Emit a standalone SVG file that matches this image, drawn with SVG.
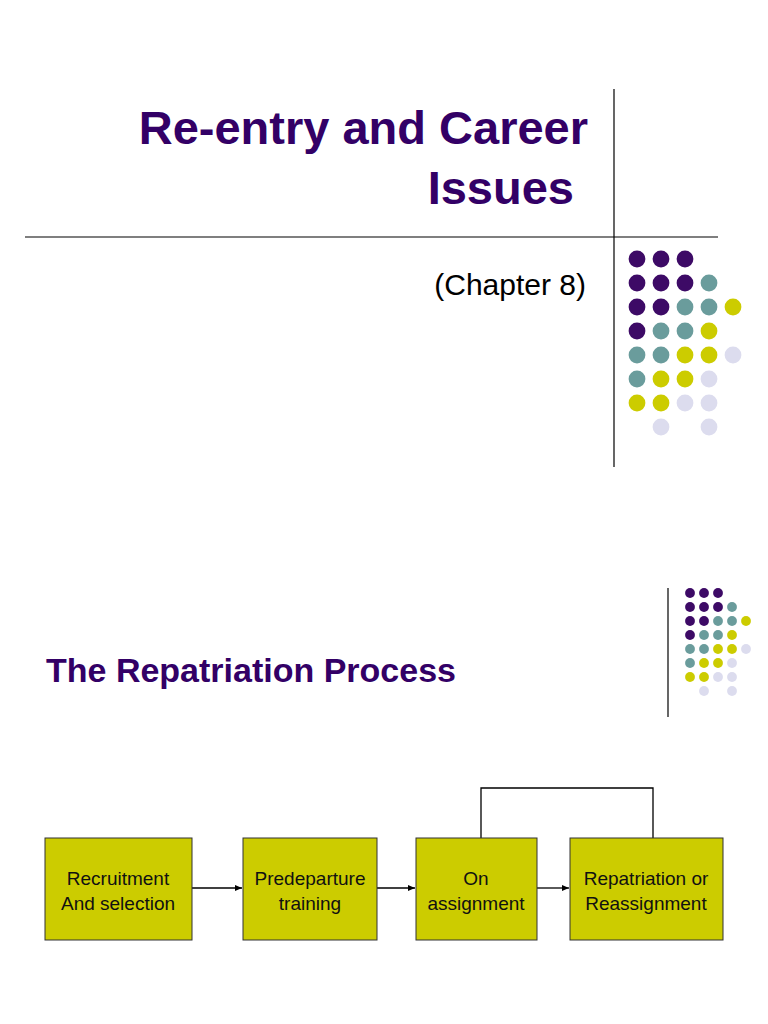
<svg xmlns="http://www.w3.org/2000/svg" width="768" height="1024" viewBox="0 0 768 1024">
<style>
.t{font-family:"Liberation Sans",Arial,sans-serif;fill:#330066;font-weight:bold}
.b{fill:#cccc00;stroke:#333;stroke-width:1}
.l{font-family:"Liberation Sans",Arial,sans-serif;font-size:19px;fill:#111;text-anchor:middle}
.P{fill:#3d0a66}.T{fill:#6a9c9c}.Y{fill:#cccc00}.L{fill:#dcdcee}
.c{stroke:#000;stroke-width:1.3;fill:none}
</style>
<defs>
<marker id="a" markerWidth="8" markerHeight="8" refX="7" refY="4" orient="auto" markerUnits="userSpaceOnUse"><path d="M0,1 L7,4 L0,7 z" fill="#000"/></marker>
<g id="dots">
<circle class="P" cx="0" cy="0" r="0.35"/><circle class="P" cx="1" cy="0" r="0.35"/><circle class="P" cx="2" cy="0" r="0.35"/>
<circle class="P" cx="0" cy="1" r="0.35"/><circle class="P" cx="1" cy="1" r="0.35"/><circle class="P" cx="2" cy="1" r="0.35"/><circle class="T" cx="3" cy="1" r="0.35"/>
<circle class="P" cx="0" cy="2" r="0.35"/><circle class="P" cx="1" cy="2" r="0.35"/><circle class="T" cx="2" cy="2" r="0.35"/><circle class="T" cx="3" cy="2" r="0.35"/><circle class="Y" cx="4" cy="2" r="0.35"/>
<circle class="P" cx="0" cy="3" r="0.35"/><circle class="T" cx="1" cy="3" r="0.35"/><circle class="T" cx="2" cy="3" r="0.35"/><circle class="Y" cx="3" cy="3" r="0.35"/>
<circle class="T" cx="0" cy="4" r="0.35"/><circle class="T" cx="1" cy="4" r="0.35"/><circle class="Y" cx="2" cy="4" r="0.35"/><circle class="Y" cx="3" cy="4" r="0.35"/><circle class="L" cx="4" cy="4" r="0.35"/>
<circle class="T" cx="0" cy="5" r="0.35"/><circle class="Y" cx="1" cy="5" r="0.35"/><circle class="Y" cx="2" cy="5" r="0.35"/><circle class="L" cx="3" cy="5" r="0.35"/>
<circle class="Y" cx="0" cy="6" r="0.35"/><circle class="Y" cx="1" cy="6" r="0.35"/><circle class="L" cx="2" cy="6" r="0.35"/><circle class="L" cx="3" cy="6" r="0.35"/>
<circle class="L" cx="1" cy="7" r="0.35"/><circle class="L" cx="3" cy="7" r="0.35"/>
</g>
</defs>
<rect width="768" height="1024" fill="#fff"/>
<text class="t" x="588" y="144" font-size="47" text-anchor="end">Re-entry and Career</text>
<text class="t" x="574" y="204" font-size="47" text-anchor="end">Issues</text>
<line x1="25" y1="237" x2="718" y2="237" stroke="#000" stroke-width="1.2"/>
<line x1="614" y1="89" x2="614" y2="467" stroke="#000" stroke-width="1.2"/>
<text x="586" y="295" font-family="Liberation Sans,Arial,sans-serif" font-size="30" text-anchor="end" fill="#000">(Chapter 8)</text>
<use href="#dots" transform="translate(637,259) scale(24)"/>
<line x1="668" y1="588" x2="668" y2="717" stroke="#000" stroke-width="1.2"/>
<use href="#dots" transform="translate(690,593) scale(14)"/>
<text class="t" x="46" y="682" font-size="34">The Repatriation Process</text>
<g id="connectors">
<line class="c" x1="192" y1="888" x2="242" y2="888" marker-end="url(#a)"/>
<line class="c" x1="377" y1="888" x2="415" y2="888" marker-end="url(#a)"/>
<line class="c" x1="537" y1="888" x2="569" y2="888" marker-end="url(#a)"/>
<polyline class="c" points="481,838 481,788 653,788 653,838"/>
</g>
<g id="n1"><rect class="b" x="45" y="838" width="147" height="102"/><text class="l" x="118" y="885">Recruitment</text><text class="l" x="118" y="910">And selection</text></g>
<g id="n2"><rect class="b" x="243" y="838" width="134" height="102"/><text class="l" x="310" y="885">Predeparture</text><text class="l" x="310" y="910">training</text></g>
<g id="n3"><rect class="b" x="416" y="838" width="121" height="102"/><text class="l" x="476" y="885">On</text><text class="l" x="476" y="910">assignment</text></g>
<g id="n4"><rect class="b" x="570" y="838" width="153" height="102"/><text class="l" x="646" y="885">Repatriation or</text><text class="l" x="646" y="910">Reassignment</text></g>
</svg>
